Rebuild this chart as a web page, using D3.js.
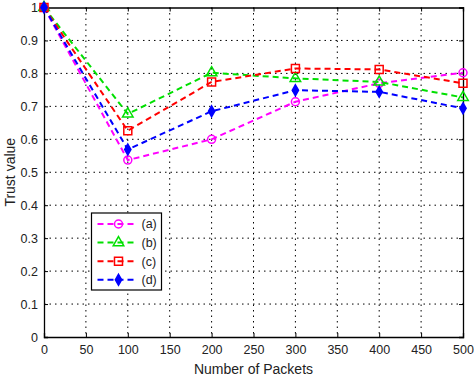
<!DOCTYPE html>
<html>
<head>
<meta charset="utf-8">
<script src="https://cdn.jsdelivr.net/npm/d3@7"></script>
<style>
  body { margin: 0; background: #fff; }
  text { font-family: "Liberation Sans", Arial, sans-serif; fill: #222; }
</style>
</head>
<body>
<div id="chart"></div>
<script>
const packets = [0, 100, 200, 300, 400, 500];
const seriesA = [1, 0.537, 0.600, 0.714, 0.770, 0.802];
const seriesB = [1, 0.677, 0.802, 0.785, 0.774, 0.727];
const seriesC = [1, 0.626, 0.774, 0.815, 0.812, 0.770];
const seriesD = [1, 0.569, 0.685, 0.749, 0.744, 0.694];
const labels = ["(a)", "(b)", "(c)", "(d)"];
const colors = ["#ff00ff", "#00e000", "#ff0000", "#0000ff"];
const markers = ["circle", "triangle", "square", "diamond"];
const xTicks = [0, 50, 100, 150, 200, 250, 300, 350, 400, 450, 500];
const yTicks = [0, 0.1, 0.2, 0.3, 0.4, 0.5, 0.6, 0.7, 0.8, 0.9, 1];

const width = 474, height = 380;
const margin = { top: 7.5, right: 11, bottom: 43, left: 44 };
const innerW = width - margin.left - margin.right;
const innerH = height - margin.top - margin.bottom;

const svg = d3.select("#chart").append("svg")
    .attr("width", width)
    .attr("height", height);

const g = svg.append("g")
    .attr("transform", `translate(${margin.left},${margin.top})`);

const x = d3.scaleLinear().domain([0, 500]).range([0, innerW]);
const y = d3.scaleLinear().domain([0, 1]).range([innerH, 0]);

// dotted grid
g.append("g").selectAll("line")
    .data(xTicks.slice(1, -1))
    .enter().append("line")
    .attr("x1", d => x(d)).attr("x2", d => x(d))
    .attr("y1", 0).attr("y2", innerH)
    .attr("stroke", "#000").attr("stroke-width", 1)
    .attr("stroke-dasharray", "1.5,4");
g.append("g").selectAll("line")
    .data(yTicks.slice(1, -1))
    .enter().append("line")
    .attr("x1", 0).attr("x2", innerW)
    .attr("y1", d => y(d)).attr("y2", d => y(d))
    .attr("stroke", "#000").attr("stroke-width", 1)
    .attr("stroke-dasharray", "1.5,4");

// axes (MATLAB style: inward ticks on all four sides)
const xAxis = g.append("g").attr("transform", `translate(0,${innerH})`)
    .call(d3.axisBottom(x).tickValues(xTicks).tickSize(-4).tickPadding(8).tickFormat(d3.format("d")));
const yAxis = g.append("g")
    .call(d3.axisLeft(y).tickValues(yTicks).tickSize(-4).tickPadding(6).tickFormat(d => d === 0 ? "0" : d === 1 ? "1" : d3.format(".1f")(d)));
const xTop = g.append("g")
    .call(d3.axisTop(x).tickValues(xTicks).tickSize(-4).tickFormat(""));
const yRight = g.append("g").attr("transform", `translate(${innerW},0)`)
    .call(d3.axisRight(y).tickValues(yTicks).tickSize(-4).tickFormat(""));

[xAxis, yAxis, xTop, yRight].forEach(a => {
    a.selectAll(".domain").attr("stroke", "#000").attr("stroke-width", 1.3);
    a.selectAll(".tick line").attr("stroke", "#000");
    a.selectAll("text").style("font-size", "12.5px").attr("fill", "#222");
});
xAxis.selectAll("text").attr("dy", "0.71em");

// series
const allSeries = [seriesA, seriesB, seriesC, seriesD];
const line = d3.line().x((d, i) => x(packets[i])).y(d => y(d));

const markerPath = (type) => {
    if (type === "circle") return d3.symbol(d3.symbolCircle, 50)();
    if (type === "triangle") return d3.symbol(d3.symbolTriangle, 48)();
    if (type === "square") return d3.symbol(d3.symbolSquare, 64)();
    return d3.symbol(d3.symbolDiamond, 34)();
};

const drawMarker = (sel, type, color) => {
    sel.append("path")
        .attr("d", markerPath(type))
        .attr("fill", type === "diamond" ? color : "none")
        .attr("stroke", color)
        .attr("stroke-width", 1.5);
};

allSeries.forEach((s, k) => {
    g.append("path")
        .datum(s)
        .attr("d", line)
        .attr("fill", "none")
        .attr("stroke", colors[k])
        .attr("stroke-width", 2)
        .attr("stroke-dasharray", "6,4");
});
allSeries.forEach((s, k) => {
    s.forEach((v, i) => {
        const m = g.append("g").attr("transform", `translate(${x(packets[i])},${y(v)})`);
        drawMarker(m, markers[k], colors[k]);
    });
});

// legend
const legend = g.append("g").attr("transform", `translate(${91.5 - margin.left},${213 - margin.top})`);
legend.append("rect")
    .attr("width", 70).attr("height", 77)
    .attr("fill", "#fff").attr("stroke", "#000").attr("stroke-width", 1.2);
labels.forEach((lab, k) => {
    const row = legend.append("g").attr("transform", `translate(0,${11 + k * 18.6})`);
    row.append("line")
        .attr("x1", 6).attr("x2", 45)
        .attr("stroke", colors[k]).attr("stroke-width", 2)
        .attr("stroke-dasharray", "6,4");
    const m = row.append("g").attr("transform", "translate(27,0)");
    drawMarker(m, markers[k], colors[k]);
    row.append("text")
        .attr("x", 50).attr("dy", "0.35em")
        .style("font-size", "12.5px")
        .text(lab);
});

// axis titles
svg.append("text")
    .attr("x", margin.left + innerW / 2).attr("y", 374)
    .attr("text-anchor", "middle")
    .style("font-size", "14px")
    .text("Number of Packets");
svg.append("text")
    .attr("transform", `translate(15,${margin.top + innerH / 2}) rotate(-90)`)
    .attr("text-anchor", "middle")
    .style("font-size", "14px")
    .text("Trust value");
</script>
</body>
</html>
